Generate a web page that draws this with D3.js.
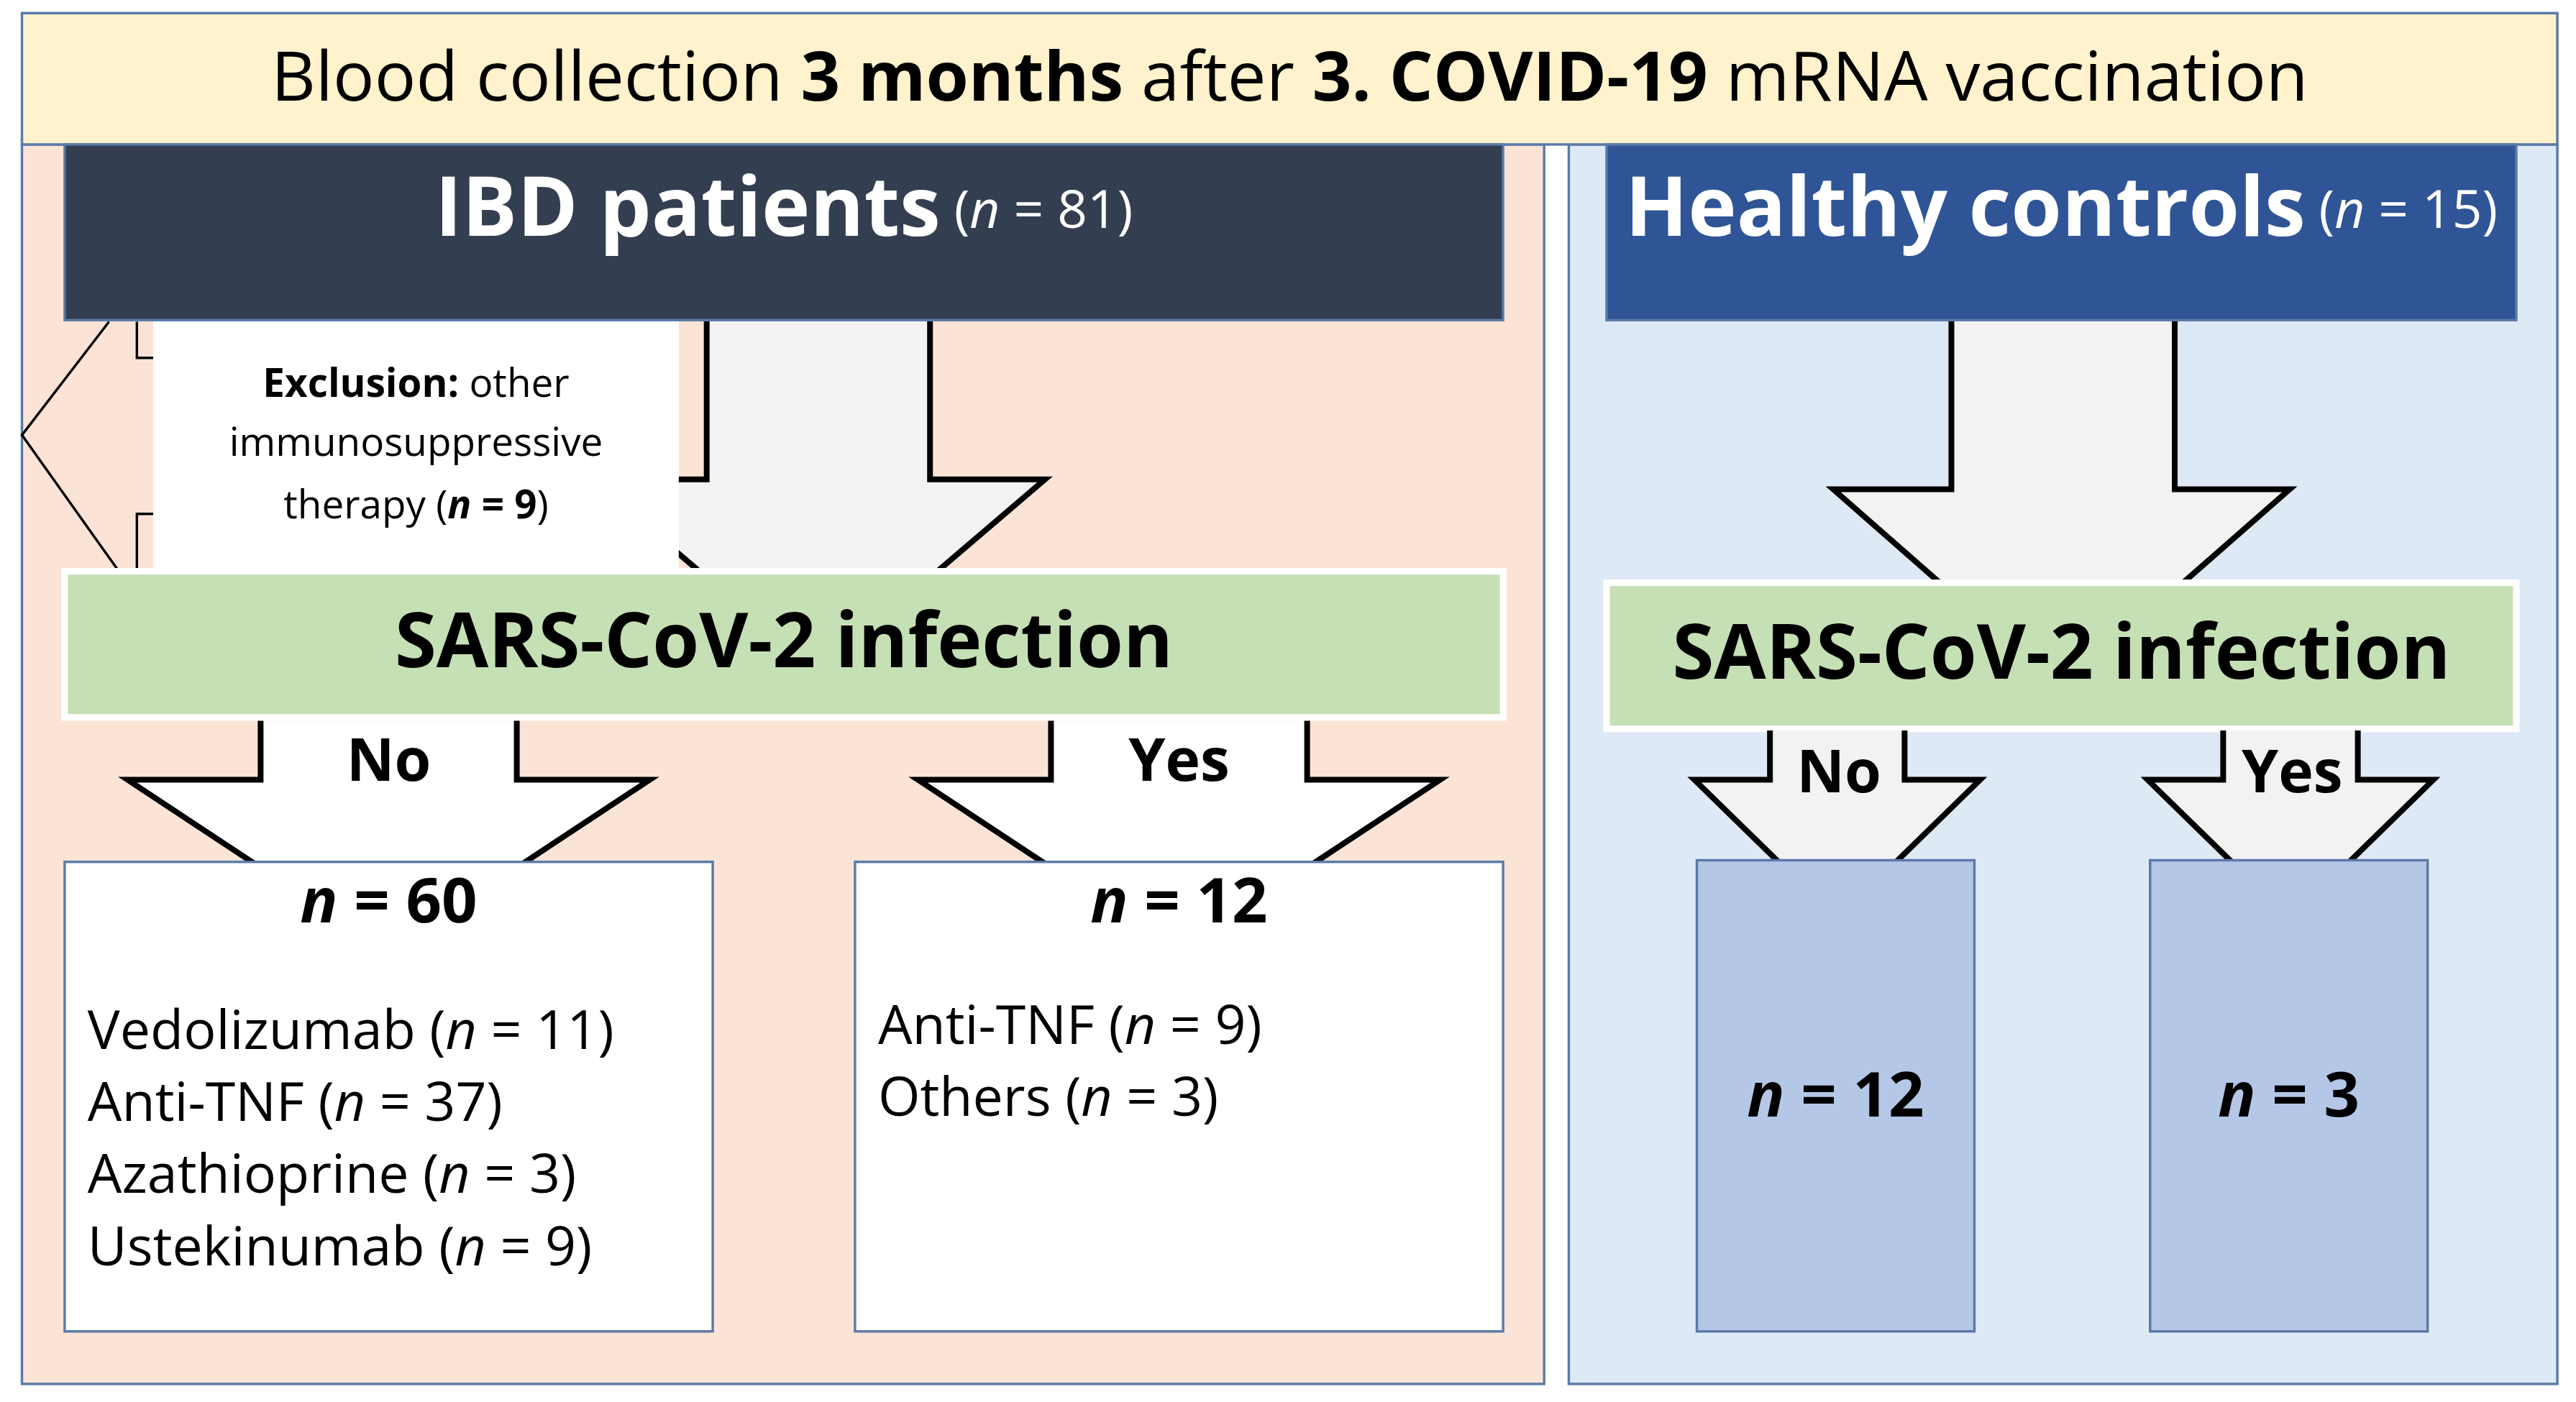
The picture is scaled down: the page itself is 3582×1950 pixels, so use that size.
<!DOCTYPE html>
<html>
<head>
<meta charset="utf-8">
<script src="https://cdn.jsdelivr.net/npm/d3@7"></script>
<style>
  body { margin: 0; background: #fff; }
  svg { display: block; font-family: "Liberation Sans Narrow", "Open Sans", sans-serif; }
</style>
</head>
<body>
<div id="chart"></div>
<script>
// Flow chart content
const titleParts = [['Blood collection ', 400], ['3 months', 700], [' after ', 400], ['3. COVID-19', 700], [' mRNA vaccination', 400]];
const groups = ['IBD patients', 'Healthy controls'];
const groupN = [81, 15];
const branchLabels = ['No', 'Yes'];
const ibdBranchN = [60, 12];
const hcBranchN = [12, 3];
const noTherapies = [['Vedolizumab', 11], ['Anti-TNF', 37], ['Azathioprine', 3], ['Ustekinumab', 9]];
const yesTherapies = [['Anti-TNF', 9], ['Others', 3]];
const excludedN = 9;

// Drawing in 1568-unit layout, scaled up to the window
const W = 1568, H = 854;
const svg = d3.select('#chart').append('svg')
  .attr('width', 3582).attr('height', 1950)
  .attr('viewBox', `0 0 ${W} ${H}`);

const edge = '#5a7aa8';

// arrow: shaft [x0,x1] from yTop to yNeck, head [h0,h1] with tip at yTip
function arrow(x0, x1, h0, h1, yTop, yNeck, yTip, fill) {
  const mid = (h0 + h1) / 2;
  svg.append('path')
    .attr('d', `M${x0},${yTop} L${x0},${yNeck} L${h0},${yNeck} L${mid},${yTip} L${h1},${yNeck} L${x1},${yNeck} L${x1},${yTop}`)
    .attr('fill', fill).attr('stroke', '#000').attr('stroke-width', 3.5).attr('stroke-linejoin', 'miter');
}

function richText(x, y, parts, size, anchor, color) {
  const t = svg.append('text').attr('x', x).attr('y', y).attr('font-size', size)
    .attr('text-anchor', anchor || 'middle').attr('fill', color || '#000').attr('dominant-baseline', 'middle');
  parts.forEach(p => {
    t.append('tspan').text(p.t)
      .attr('font-weight', p.w || 400)
      .attr('font-style', p.i ? 'italic' : 'normal')
      .attr('font-size', p.s || size);
  });
  return t;
}

// panels
svg.append('rect').attr('x', 13).attr('y', 88).attr('width', 927).attr('height', 755)
  .attr('fill', '#fbe4d6').attr('stroke', edge).attr('stroke-width', 1.5);
svg.append('rect').attr('x', 955).attr('y', 88).attr('width', 602).attr('height', 755)
  .attr('fill', '#dee9f6').attr('stroke', edge).attr('stroke-width', 1.5);
svg.append('rect').attr('x', 13).attr('y', 8).attr('width', 1544).attr('height', 80)
  .attr('fill', '#fff2cc').attr('stroke', edge).attr('stroke-width', 1.5);
richText(785, 50, titleParts.map(p => ({ t: p[0], w: p[1] })), 42);

// big arrows down to infection
arrow(430, 566, 360, 636, 190, 292, 410, '#f2f2f2');
arrow(1188, 1324, 1116, 1394, 190, 298, 420, '#f2f2f2');

// exclusion side arrow
svg.append('path').attr('d', 'M66,196 L13,265 L72,348').attr('fill', 'none').attr('stroke', '#000').attr('stroke-width', 1.5);
svg.append('path').attr('d', 'M93,218 L83,218 L83,196 M93,313 L83,313 L83,348').attr('fill', 'none').attr('stroke', '#000').attr('stroke-width', 1.5);
svg.append('rect').attr('x', 93).attr('y', 195).attr('width', 320).attr('height', 153).attr('fill', '#fff');
richText(253, 235, [{ t: 'Exclusion:', w: 700 }, { t: ' other' }], 24);
richText(253, 271, [{ t: 'immunosuppressive' }], 24);
richText(253, 309, [{ t: 'therapy  (' }, { t: 'n', w: 700, i: true }, { t: ' = ' + excludedN, w: 700 }, { t: ')' }], 24);

// group headers
const headers = [{ x: 39, w: 876, fill: '#333f50' }, { x: 978, w: 554, fill: '#2f5597' }];
headers.forEach((h, i) => {
  svg.append('rect').attr('x', h.x).attr('y', 88).attr('width', h.w).attr('height', 107)
    .attr('fill', h.fill).attr('stroke', edge).attr('stroke-width', 1.5);
  richText(h.x + h.w / 2, 130, [
    { t: groups[i], w: 700, s: 50 }, { t: ' (' , s: 32 }, { t: 'n', i: true, s: 32 }, { t: ' = ' + groupN[i] + ')', s: 32 }
  ], 50, 'middle', '#fff');
});

// infection boxes
const infect = [{ x: 39, y: 348, w: 876 }, { x: 978, y: 355, w: 554 }];
infect.forEach(b => {
  svg.append('rect').attr('x', b.x).attr('y', b.y).attr('width', b.w).attr('height', 89)
    .attr('fill', '#c5e0b4').attr('stroke', '#fff').attr('stroke-width', 4);
  richText(b.x + b.w / 2, b.y + 46, [{ t: 'SARS-CoV-2 infection', w: 700 }], 46);
});

// IBD branches
const xb = d3.scaleBand().domain(branchLabels).range([39, 915]).paddingInner(0.18);
branchLabels.forEach((lab, i) => {
  const x0 = xb(lab), bw = xb.bandwidth(), c = x0 + bw / 2;
  arrow(c - 78, c + 78, c - 159, c + 159, 439, 475, 580, '#fff');
  richText(c, 466, [{ t: lab, w: 700 }], 36);
  svg.append('rect').attr('x', x0).attr('y', 525).attr('width', bw).attr('height', 286)
    .attr('fill', '#fff').attr('stroke', edge).attr('stroke-width', 1.5);
  richText(c, 552, [{ t: 'n', w: 700, i: true }, { t: ' = ' + ibdBranchN[i], w: 700 }], 38);
  const list = i === 0 ? noTherapies : yesTherapies;
  const y0 = i === 0 ? 630 : 627;
  list.forEach((d, k) => {
    richText(x0 + 14, y0 + k * 44, [{ t: d[0] + ' (' }, { t: 'n', i: true }, { t: ' = ' + d[1] + ')' }], 33, 'start');
  });
});

// Healthy control branches
const hx = [1033, 1309];
branchLabels.forEach((lab, i) => {
  const x0 = hx[i], bw = 169, c = x0 + bw / 2;
  arrow(c - 40, c + 42, c - 86, c + 88, 445, 475, 560, '#f2f2f2');
  richText(c + 2, 473, [{ t: lab, w: 700 }], 36);
  svg.append('rect').attr('x', x0).attr('y', 524).attr('width', bw).attr('height', 287)
    .attr('fill', '#b4c7e7').attr('stroke', edge).attr('stroke-width', 1.5);
  richText(c, 670, [{ t: 'n', w: 700, i: true }, { t: ' = ' + hcBranchN[i], w: 700 }], 38);
});
</script>
</body>
</html>
